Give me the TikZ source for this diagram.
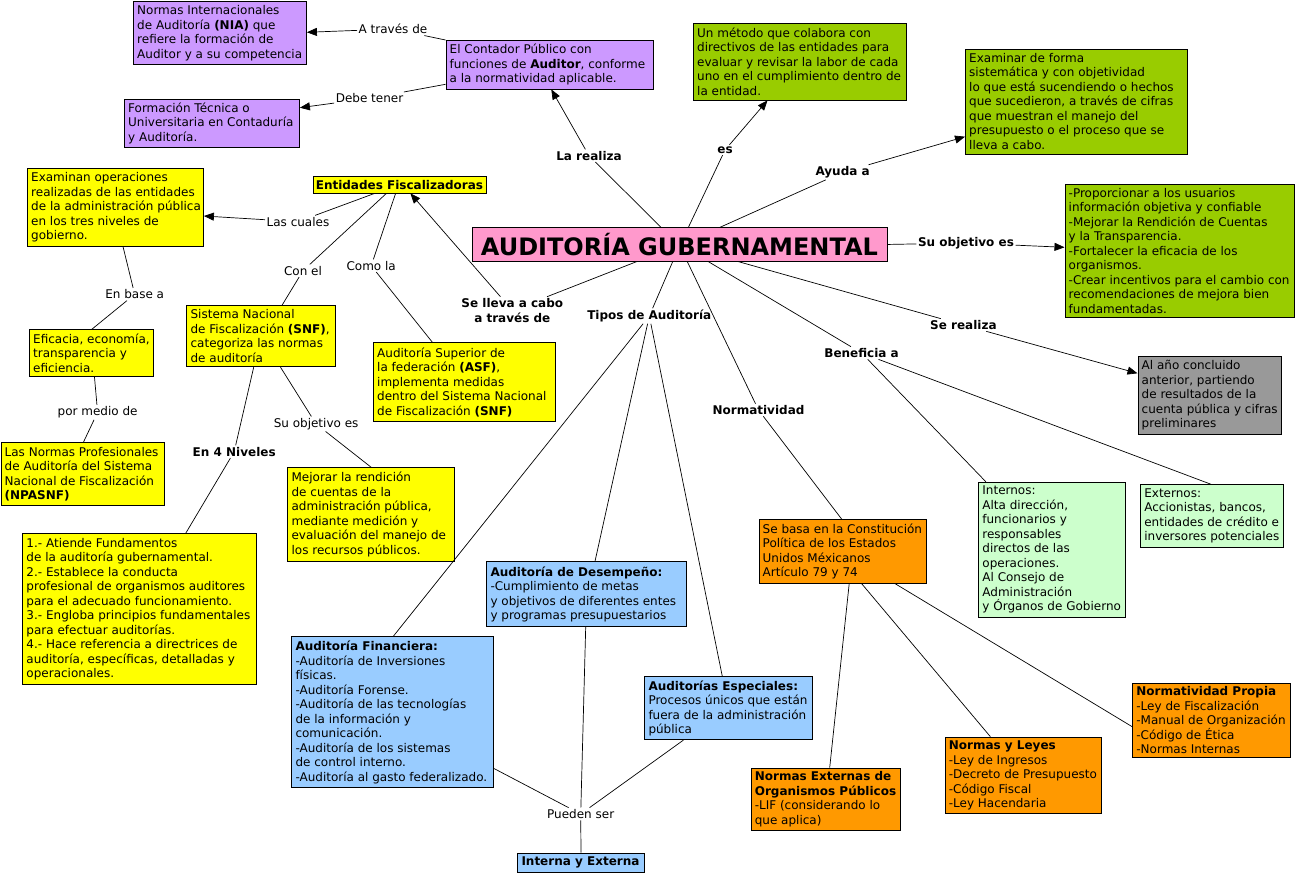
\documentclass[tikz,border=0pt]{standalone}
\usepackage{fontspec}
\setmainfont{DejaVu Sans}
\usetikzlibrary{arrows.meta}
\newcommand\fs{\fontsize{12pt}{14.5pt}\selectfont}
\definecolor{cpurple}{HTML}{CC99FF}
\definecolor{cgreen}{HTML}{99CC00}
\definecolor{cpink}{HTML}{FF99CC}
\definecolor{cyellow}{HTML}{FFFF00}
\definecolor{cblue}{HTML}{99CCFF}
\definecolor{corange}{HTML}{FF9900}
\definecolor{clgreen}{HTML}{CCFFCC}
\definecolor{cgray}{HTML}{999999}
\tikzset{
 cmbox/.style={draw=black, line width=0.9pt, anchor=north west, inner sep=0pt, rectangle},
 cmtxt/.style={anchor=west, align=left, inner sep=0pt, font=\fs},
 lbl/.style={font=\fs, inner sep=1.5pt},
 blbl/.style={font=\fs\bfseries, inner sep=1.5pt},
 link/.style={draw=black, line width=0.7pt},
 arr/.style={link, -{Triangle[length=10pt,width=8pt]}},
}
\newcommand\cbox[7]{%
  \node[cmbox, fill=#2, minimum width=#5pt, minimum height=#6pt] (#1) at (#3,#4) {};
  \node[cmtxt] (#1t) at ([xshift=4pt]#1.west) {#7};}
\begin{document}
\begin{tikzpicture}[x=1pt,y=-1pt]
\fill[white] (0,0) rectangle (1296,873);
\useasboundingbox (0,0) rectangle (1296,873);

% ---------- boxes ----------
\cbox{nia}{cpurple}{133}{1}{173}{63}{Normas Internacionales\\de Auditoría \textbf{(NIA)} que\\refiere la formación de\\Auditor y a su competencia}
\cbox{contador}{cpurple}{445.5}{40}{207}{48.5}{El Contador Público con\\funciones de \textbf{Auditor}, conforme\\a la normatividad aplicable.}
\cbox{formacion}{cpurple}{124}{98.5}{175}{48}{Formación Técnica o\\Universitaria en Contaduría\\y Auditoría.}
\cbox{metodo}{cgreen}{693}{22.5}{213}{77}{Un método que colabora con\\directivos de las entidades para\\evaluar y revisar la labor de cada\\uno en el cumplimiento dentro de\\la entidad.}
\cbox{examinar}{cgreen}{965}{48.5}{222}{105}{Examinar de forma\\sistemática y con objetividad\\lo que está sucendiendo o hechos\\que sucedieron, a través de cifras\\que muestran el manejo del\\presupuesto o el proceso que se\\lleva a cabo.}
\cbox{objetivo}{cgreen}{1064.5}{184}{229}{133}{-Proporcionar a los usuarios\\información objetiva y confiable\\-Mejorar la Rendición de Cuentas\\y la Transparencia.\\-Fortalecer la eficacia de los\\organismos.\\-Crear incentivos para el cambio con\\recomendaciones de mejora bien\\fundamentadas.}
\node[cmbox, fill=cpink, minimum width=415pt, minimum height=33.4pt, font=\fontsize{24pt}{28pt}\selectfont\bfseries] (main) at (471.5,227.3) {AUDITORÍA GUBERNAMENTAL};
\node[cmbox, fill=cyellow, minimum width=173pt, minimum height=16.5pt, font=\fs\bfseries] (entidades) at (312.5,176) {Entidades Fiscalizadoras};
\cbox{examinan}{cyellow}{27}{168.3}{176}{77.4}{Examinan operaciones\\realizadas de las entidades\\de la administración pública\\en los tres niveles de\\gobierno.}
\cbox{eficacia}{cyellow}{29}{329.3}{124}{47}{Eficacia, economía,\\transparencia y\\eficiencia.}
\cbox{npasnf}{cyellow}{0.5}{442.3}{163}{63}{Las Normas Profesionales\\de Auditoría del Sistema\\Nacional de Fiscalización\\\textbf{(NPASNF)}}
\cbox{snf}{cyellow}{186.4}{305.3}{149}{61}{Sistema Nacional\\de Fiscalización \textbf{(SNF)},\\categoriza las normas\\de auditoría}
\cbox{asf}{cyellow}{373}{342.3}{181.5}{79}{Auditoría Superior de\\la federación \textbf{(ASF)},\\implementa medidas\\dentro del Sistema Nacional\\de Fiscalización \textbf{(SNF)}}
\cbox{mejorar}{cyellow}{287.4}{467.3}{167}{93.5}{Mejorar la rendición\\de cuentas de la\\administración pública,\\mediante medición y\\evaluación del manejo de\\los recursos públicos.}
\cbox{niveles}{cyellow}{22.3}{533.3}{233.4}{151}{1.- Atiende Fundamentos\\de la auditoría gubernamental.\\2.- Establece la conducta\\profesional de organismos auditores\\para el adecuado funcionamiento.\\3.- Engloba principios fundamentales\\para efectuar auditorías.\\4.- Hace referencia a directrices de\\auditoría, específicas, detalladas y\\operacionales.}
\cbox{financiera}{cblue}{291.3}{636.3}{201.4}{151}{\textbf{Auditoría Financiera:}\\-Auditoría de Inversiones\\físicas.\\-Auditoría Forense.\\-Auditoría de las tecnologías\\de la información y\\comunicación.\\-Auditoría de los sistemas\\de control interno.\\-Auditoría al gasto federalizado.}
\cbox{desempeno}{cblue}{486.3}{561.3}{199.4}{65}{\textbf{Auditoría de Desempeño:}\\-Cumplimiento de metas\\y objetivos de diferentes entes\\y programas presupuestarios}
\cbox{especiales}{cblue}{644.3}{676.3}{167.4}{63}{\textbf{Auditorías Especiales:}\\Procesos únicos que están\\fuera de la administración\\pública}
\cbox{interna}{cblue}{517.3}{852.7}{127}{19}{\textbf{Interna y Externa}}
\cbox{constitucion}{corange}{758.5}{519.3}{167.3}{63.4}{Se basa en la Constitución\\Política de los Estados\\Unidos Méxicanos\\Artículo 79 y 74}
\cbox{internos}{clgreen}{978.2}{481.7}{147}{135.3}{Internos:\\Alta dirección,\\funcionarios y\\responsables\\directos de las\\operaciones.\\Al Consejo de\\Administración\\y Órganos de Gobierno}
\cbox{externos}{clgreen}{1140.1}{484.3}{143.3}{62.7}{Externos:\\Accionistas, bancos,\\entidades de crédito e\\inversores potenciales}
\cbox{gris}{cgray}{1137.5}{355.7}{143.3}{78.6}{Al año concluido\\anterior, partiendo\\de resultados de la\\cuenta pública y cifras\\preliminares}
\cbox{normext}{corange}{750.6}{767.7}{149}{62.3}{\textbf{Normas Externas de}\\\textbf{Organismos Públicos}\\-LIF (considerando lo\\que aplica)}
\cbox{normleyes}{corange}{944.6}{736.7}{156.7}{76.6}{\textbf{Normas y Leyes}\\-Ley de Ingresos\\-Decreto de Presupuesto\\-Código Fiscal\\-Ley Hacendaria}
\cbox{normpropia}{corange}{1132.2}{682.7}{157.4}{74.6}{\textbf{Normatividad Propia}\\-Ley de Fiscalización\\-Manual de Organización\\-Código de Ética\\-Normas Internas}

% ---------- labels ----------
\node[lbl] (lAtraves) at (393,29) {A través de};
\node[lbl] (lDebe) at (369.5,98.3) {Debe tener};
\node[blbl] (lRealiza) at (589,155.7) {La realiza};
\node[blbl] (lEs) at (725,150) {es};
\node[blbl] (lAyuda) at (842.6,172.3) {Ayuda a};
\node[blbl] (lSuObj) at (966,243) {Su objetivo es};
\node[blbl] (lSeRealiza) at (963.4,325) {Se realiza};
\node[blbl] (lBenef) at (861.6,353) {Beneficia a};
\node[blbl] (lNorm) at (758.5,410) {Normatividad};
\node[blbl] (lTipos) at (649.3,316) {Tipos de Auditoría};
\node[blbl, align=center] (lLleva) at (512.3,310.3) {Se lleva a cabo\\a través de};
\node[lbl] (lCuales) at (298,221.7) {Las cuales};
\node[lbl] (lConel) at (303,270.7) {Con el};
\node[lbl] (lComola) at (371.2,265.7) {Como la};
\node[lbl] (lBase) at (134.7,294.3) {En base a};
\node[lbl] (lMedio) at (97.6,412.3) {por medio de};
\node[lbl] (lSuObj2) at (316.1,424) {Su objetivo es};
\node[blbl] (l4niv) at (234.2,451.7) {En 4 Niveles};
\node[lbl] (lPueden) at (580.7,814) {Pueden ser};

% ---------- connectors ----------
\draw[link] ([xshift=189.5pt]main.north west) -- (lRealiza);
\draw[arr] (lRealiza) -- ([xshift=105.8pt]contador.south west);
\draw[link] ([xshift=216.9pt]main.north west) -- (lEs);
\draw[arr] (lEs) -- ([xshift=74.5pt]metodo.south west);
\draw[link] ([xshift=248.5pt]main.north west) -- (lAyuda);
\draw[arr] (lAyuda) -- ([yshift=-88.2pt]examinar.north west);
\draw[link] (main.east) -- (lSuObj);
\draw[arr] (lSuObj) -- ([yshift=-63.3pt]objetivo.north west);
\draw[link] ([xshift=266.8pt]main.south west) -- (lSeRealiza);
\draw[arr] (lSeRealiza) -- ([yshift=-17.6pt]gris.north west);
\draw[link] ([xshift=236.8pt]main.south west) -- (lBenef);
\draw[link] (lBenef) -- ([xshift=7.6pt]internos.north west);
\draw[link] (lBenef) -- ([xshift=71pt]externos.north west);
\draw[link] ([xshift=215.8pt]main.south west) -- (lNorm);
\draw[link] (lNorm) -- ([xshift=83.3pt]constitucion.north west);
\draw[link] ([xshift=201.2pt]main.south west) -- (lTipos);
\draw[link] (lTipos) -- ([xshift=102pt]financiera.north west);
\draw[link] (lTipos) -- ([xshift=108.7pt]desempeno.north west);
\draw[link] (lTipos) -- ([xshift=78pt]especiales.north west);
\draw[link] ([xshift=165.2pt]main.south west) -- (lLleva);
\draw[arr] (lLleva) -- ([xshift=97.9pt]entidades.south west);
\draw[link] ([xshift=62.1pt]entidades.south west) -- (lCuales);
\draw[arr] (lCuales) -- ([yshift=-47.7pt]examinan.north east);
\draw[link] ([xshift=73.9pt]entidades.south west) -- (lConel);
\draw[link] (lConel) -- ([xshift=95.6pt]snf.north west);
\draw[link] ([xshift=83.1pt]entidades.south west) -- (lComola);
\draw[link] (lComola) -- ([xshift=59.4pt]asf.north west);
\draw[link] ([xshift=96pt]examinan.south west) -- (lBase);
\draw[link] (lBase) -- ([xshift=62.8pt]eficacia.north west);
\draw[link] ([xshift=65.5pt]eficacia.south west) -- (lMedio);
\draw[link] (lMedio) -- ([xshift=82.9pt]npasnf.north west);
\draw[link] ([xshift=67.3pt]snf.south west) -- (l4niv);
\draw[link] (l4niv) -- ([xshift=163.4pt]niveles.north west);
\draw[link] ([xshift=94.1pt]snf.south west) -- (lSuObj2);
\draw[link] (lSuObj2) -- ([xshift=83.8pt]mejorar.north west);
\draw[link] (contador.north west) -- (lAtraves);
\draw[arr] (lAtraves) -- ([yshift=-31.3pt]nia.north east);
\draw[link] ([yshift=-44.3pt]contador.north west) -- (lDebe);
\draw[arr] (lDebe) -- ([yshift=-9.2pt]formacion.north east);
\draw[link] ([yshift=-132pt]financiera.north east) -- (lPueden);
\draw[link] ([xshift=99.4pt]desempeno.south west) -- (lPueden);
\draw[link] ([xshift=39pt]especiales.south west) -- (lPueden);
\draw[link] (lPueden) -- ([xshift=63.7pt]interna.north west);
\draw[link] ([xshift=90.7pt]constitucion.south west) -- ([xshift=79.1pt]normext.north west);
\draw[link] ([xshift=103.1pt]constitucion.south west) -- ([xshift=45.8pt]normleyes.north west);
\draw[link] ([xshift=136.5pt]constitucion.south west) -- ([yshift=-44pt]normpropia.north west);
\end{tikzpicture}
\end{document}
